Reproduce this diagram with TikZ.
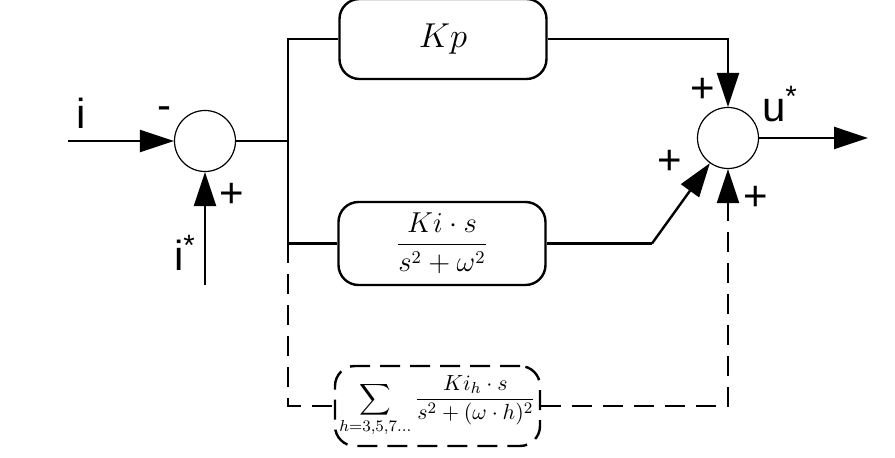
\documentclass[tikz,border=0pt]{standalone}
\usepackage{amsmath}
\usepackage{fontspec}
\setmainfont{Liberation Sans}
\usepackage{tikz}
\usetikzlibrary{arrows.meta, positioning, calc}
\tikzset{
  sumnode/.style={
    circle, draw=black, line width=0.6pt, fill=white,
    minimum size=30.5pt, inner sep=0pt
  },
  block/.style={
    rectangle, rounded corners=10pt, draw=black, line width=1.2pt,
    minimum width=103.5pt, minimum height=40pt,
    align=center, inner sep=2pt
  },
  dblock/.style={
    block, dash pattern=on 10pt off 5pt
  },
  wire/.style={line width=1.2pt, draw=black},
  dwire/.style={wire, dash pattern=on 10pt off 5.5pt},
  sig/.style={wire, -{Triangle[length=17pt, width=11pt]}},
  lbl/.style={inner sep=0pt, font=\fontsize{21}{24}\selectfont}
}
\begin{document}
\begin{tikzpicture}[x=0.5pt, y=-0.5pt]
\useasboundingbox (0,0) rectangle (895,458);

% summing junctions
\node[sumnode] (sum1) at (205,141) {};
\node[sumnode] (sum2) at (728,138) {};

% controller branches
\node[block, font=\fontsize{16.5}{19}\selectfont] (kp) at (443,39) {$Kp$};
\node[block, minimum height=41.5pt, font=\fontsize{13.5}{16}\selectfont]
  (ki) at (442,243.5) {$\dfrac{Ki\cdot s}{s^2+\omega^2}$};
\node[dblock, minimum width=102.5pt, font=\fontsize{11}{13}\selectfont]
  (hs) at (437.5,406) {$\displaystyle\sum_{h=3,5,7\ldots}\frac{Ki_h\cdot s}{s^2+(\omega\cdot h)^2}$};

% free ends and corners
\coordinate (in) at (68,141);
\coordinate (istar) at (205,285);
\coordinate (br) at (288,141);
\coordinate (kink) at (652,243.5);
\coordinate (out) at (868,138);

% signals
\draw[sig] (in) -- (sum1);
\draw[sig] (istar) -- (sum1);
\draw[wire] (sum1) -- (br);
\draw[wire] (kp.west) -| (br) |- (ki.west);
\draw[dwire] (br |- ki.west) |- (hs.west);
\draw[sig] (kp.east) -| (sum2.north);
\draw[wire] (ki.east) -- (kink);
\draw[sig] (kink) -- (sum2);
\draw[dwire, -{Triangle[length=17pt, width=11pt]}] (hs.east) -| (sum2.south);
\draw[sig] (sum2) -- (out);

% signs and labels
\node[lbl] (ilbl) at (81,113) {i};
\node[lbl] (minus1) at (164,113) {-};
\node[lbl] (plus1) at (232,195) {+};
\node[lbl] (istarlbl) at (185,253) {i\textsuperscript{*}};
\node[lbl] (plus2) at (703,90) {+};
\node[lbl] (ustar) at (780,104) {u\textsuperscript{*}};
\node[lbl] (plus3) at (670,162) {+};
\node[lbl] (plus4) at (756,198) {+};

\end{tikzpicture}
\end{document}
